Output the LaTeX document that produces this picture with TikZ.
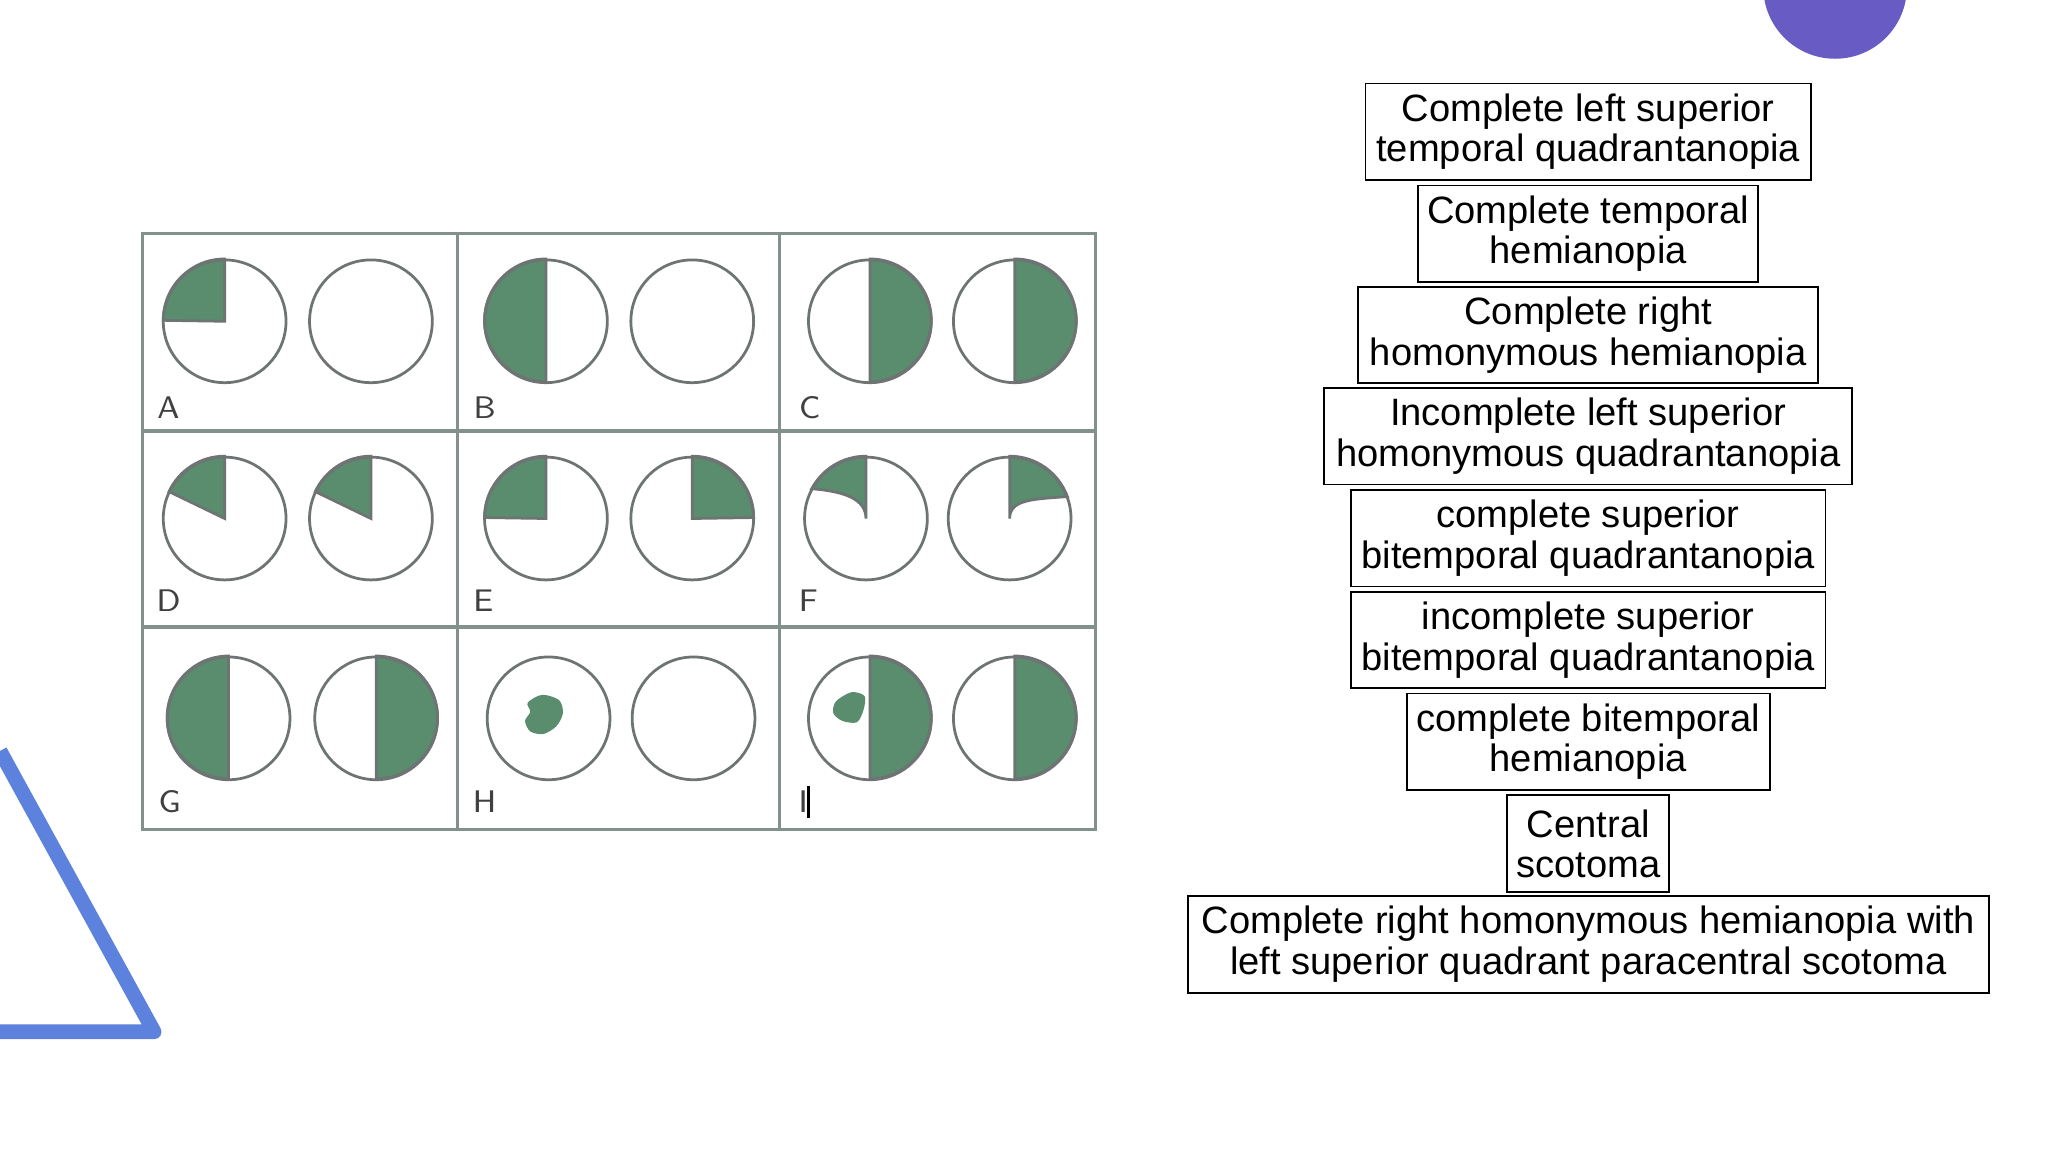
\documentclass[tikz,border=0pt]{standalone}
\usepackage{fontspec}
\setmainfont{Liberation Sans}
\usetikzlibrary{positioning}
\definecolor{vfgreen}{RGB}{90,140,110}
\definecolor{gridgray}{RGB}{130,145,140}
\definecolor{ringgray}{RGB}{110,115,115}
\definecolor{deckpurple}{RGB}{104,92,196}
\definecolor{deckblue}{RGB}{92,130,222}
\tikzset{eye/.style={circle,minimum size=0.94cm,inner sep=0pt}}
\tikzset{lost/.style={fill=vfgreen,draw=ringgray,line width=0.6pt}}
\tikzset{tag/.style={font=\fontsize{6.8}{7}\selectfont\sffamily,text=black!75,anchor=center}}
\tikzset{answer/.style={draw,line width=0.4pt,align=center,inner sep=0pt,font=\fontsize{8.3}{8.8}\selectfont}}
\begin{document}
\begin{tikzpicture}[x=0.01cm,y=0.01cm]
		\useasboundingbox (0,0) rectangle (1568,882);
		\fill[white] (0,0) rectangle (1568,882);
		
		% decorations
		\fill[deckpurple] (1405,892) circle[radius=55];
		\coordinate (t1) at (0,307);
		\coordinate (t2) at (118,92);
		\coordinate (t3) at (0,92);
		\draw[deckblue,line width=3.2pt,line join=round] (t1) -- (t2) -- (t3);
		
		% grid
		\draw[gridgray,line width=0.7pt] (109,247) rectangle (839,703);
		\draw[gridgray,line width=0.7pt] (109,552) -- (839,552) (109,402) -- (839,402)
		(350,247) -- (350,703) (597,247) -- (597,703);
		
		% fields
		\node[eye] (a1) at (172,636) {};
		\node[eye] (a2) at (284,636) {};
		\node[eye] (b1) at (418,636) {};
		\node[eye] (b2) at (530,636) {};
		\node[eye] (c1) at (666,636) {};
		\node[eye] (c2) at (777,636) {};
		\node[eye] (d1) at (172,485) {};
		\node[eye] (d2) at (284,485) {};
		\node[eye] (e1) at (418,485) {};
		\node[eye] (e2) at (530,485) {};
		\node[eye] (f1) at (663,485) {};
		\node[eye] (f2) at (773,485) {};
		\node[eye] (g1) at (175,332) {};
		\node[eye] (g2) at (288,332) {};
		\node[eye] (h1) at (420,332) {};
		\node[eye] (h2) at (531,332) {};
		\node[eye] (i1) at (666,332) {};
		\node[eye] (i2) at (777,332) {};
		
		\fill[lost] (a1.center) -- (a1.north) arc[start angle=90,end angle=180,radius=47] -- cycle;
		\fill[lost] (b1.north) arc[start angle=90,end angle=270,radius=47] -- cycle;
		\fill[lost] (c1.north) arc[start angle=90,end angle=-90,radius=47] -- cycle;
		\fill[lost] (c2.north) arc[start angle=90,end angle=-90,radius=47] -- cycle;
		\fill[lost] (d1.center) -- (d1.north) arc[start angle=90,end angle=155,radius=47] -- cycle;
		\fill[lost] (d2.center) -- (d2.north) arc[start angle=90,end angle=155,radius=47] -- cycle;
		\fill[lost] (e1.center) -- (e1.north) arc[start angle=90,end angle=180,radius=47] -- cycle;
		\fill[lost] (e2.center) -- (e2.north) arc[start angle=90,end angle=0,radius=47] -- cycle;
		\fill[lost] (f1.center) -- (f1.north) arc[start angle=90,end angle=152,radius=47]
		.. controls +(25,-2) and +(0,15) .. (f1.center);
		\fill[lost] (f2.center) -- (f2.north) arc[start angle=90,end angle=20,radius=47]
		.. controls +(-25,-2) and +(0,15) .. (f2.center);
		\fill[lost] (g1.north) arc[start angle=90,end angle=270,radius=47] -- cycle;
		\fill[lost] (g2.north) arc[start angle=90,end angle=-90,radius=47] -- cycle;
		\fill[lost] (i1.north) arc[start angle=90,end angle=-90,radius=47] -- cycle;
		\fill[lost] (i2.north) arc[start angle=90,end angle=-90,radius=47] -- cycle;
		\fill[vfgreen] plot[smooth cycle] coordinates {(404,344) (415,350) (428,346) (431,336) (426,326) (416,320) (406,322) (402,330) (406,337)};
		\fill[vfgreen] plot[smooth cycle] coordinates {(640,345) (652,352) (662,349) (661,338) (656,329) (645,330) (638,336)};
		
		\foreach \n in {a1,a2,b1,b2,c1,c2,d1,d2,e1,e2,f1,f2,g1,g2,h1,h2,i1,i2}
		\draw[ringgray,line width=0.6pt] (\n.center) circle[radius=47];
		
		% letters
		\node[tag] (la) at (129,570) {A};
		\node[tag] (lb) at (371,570) {B};
		\node[tag] (lc) at (620,570) {C};
		\node[tag] (ld) at (129,422) {D};
		\node[tag] (le) at (370,422) {E};
		\node[tag] (lf) at (619,422) {F};
		\node[tag] (lg) at (130,268) {G};
		\node[tag] (lh) at (371,268) {H};
		\node[tag] (li) at (615,268) {I};
		\draw[black,line width=0.5pt] (619,256) -- (619,280);
		
		% answers
		\node[answer,minimum width=3.41cm,minimum height=0.74cm] (q1) at (1216,781) {Complete left superior\\temporal quadrantanopia};
		\node[answer,minimum width=2.60cm,minimum height=0.74cm] (q2) at (1216,703) {Complete temporal\\hemianopia};
		\node[answer,minimum width=3.52cm,minimum height=0.73cm] (q3) at (1216,625.5) {Complete right\\homonymous hemianopia};
		\node[answer,minimum width=4.04cm,minimum height=0.74cm] (q4) at (1216,548) {Incomplete left superior\\homonymous quadrantanopia};
		\node[answer,minimum width=3.63cm,minimum height=0.74cm] (q5) at (1216,470) {complete superior\\bitemporal quadrantanopia};
		\node[answer,minimum width=3.63cm,minimum height=0.74cm] (q6) at (1216,392) {incomplete superior\\bitemporal quadrantanopia};
		\node[answer,minimum width=2.78cm,minimum height=0.74cm] (q7) at (1216,314) {complete bitemporal\\hemianopia};
		\node[answer,minimum width=1.24cm,minimum height=0.74cm] (q8) at (1216,236) {Central\\scotoma};
		\node[answer,minimum width=6.13cm,minimum height=0.74cm] (q9) at (1216,159) {Complete right homonymous hemianopia with\\left superior quadrant paracentral scotoma};
\end{tikzpicture}
\end{document}
